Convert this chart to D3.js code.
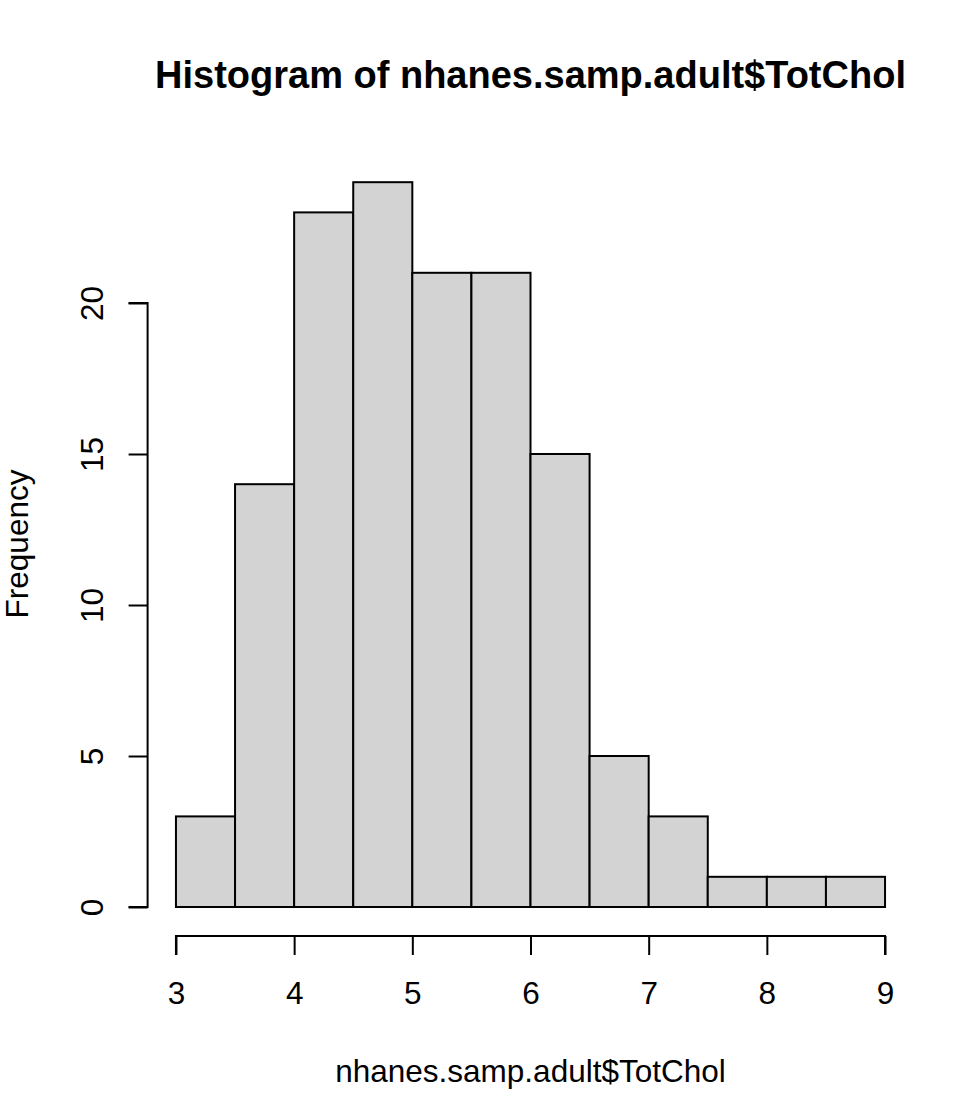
<!DOCTYPE html>
<html><head><meta charset="utf-8">
<script src="https://cdn.jsdelivr.net/npm/d3@7"></script>
<style>body{margin:0;background:#fff}svg{display:block}text{font-family:"Liberation Sans",Arial,sans-serif}</style>
</head><body>
<svg id="c" width="966" height="1102"></svg>
<script>
const binStarts = [3,3.5,4,4.5,5,5.5,6,6.5,7,7.5,8,8.5];
const binWidth = 0.5;
const counts = [3,14,23,24,21,21,15,5,3,1,1,1];
const xTicks = [3,4,5,6,7,8,9];
const yTicks = [0,5,10,15,20];
const title = "Histogram of nhanes.samp.adult$TotChol";
const xLabel = "nhanes.samp.adult$TotChol";
const yLabel = "Frequency";

const svg = d3.select("#c");
const x = d3.scaleLinear().domain([2.76, 9.24]).range([147.6, 913.4]);
const y = d3.scaleLinear().domain([-0.96, 24.96]).range([936, 153.2]);

svg.append("g").selectAll("rect").data(binStarts).join("rect")
  .attr("x", (d)=>x(d)).attr("width", (d)=>x(d+binWidth)-x(d))
  .attr("y", (d,i)=>y(counts[i])).attr("height", (d,i)=>y(0)-y(counts[i]))
  .attr("fill", "#d3d3d3").attr("stroke", "#000").attr("stroke-width", 2);

const xa = d3.axisBottom(x).tickValues(xTicks).tickSize(19).tickFormat(d3.format("d"));
const gx = svg.append("g").attr("transform", "translate(0,936)").call(xa);
gx.select(".domain").attr("d", `M${x(3)},19V0H${x(9)}V19`).attr("stroke-width", 2);
gx.selectAll(".tick line").attr("stroke-width", 2);
gx.selectAll("text").attr("font-size", 31.5).attr("fill", "#000")
  .attr("font-family", "Liberation Sans, Arial, sans-serif")
  .attr("y", 68).attr("dy", null);

const ya = d3.axisLeft(y).tickValues(yTicks).tickSize(19).tickFormat(d3.format("d"));
const gy = svg.append("g").attr("transform", "translate(147.6,0)").call(ya);
gy.select(".domain").attr("d", `M-19,${y(0)}H0V${y(20)}H-19`).attr("stroke-width", 2);
gy.selectAll(".tick line").attr("stroke-width", 2);
gy.selectAll("text").attr("font-size", 31.5).attr("fill", "#000")
  .attr("font-family", "Liberation Sans, Arial, sans-serif")
  .attr("text-anchor", "middle").attr("dy", null)
  .attr("transform", "translate(-45,0) rotate(-90)").attr("x", 0).attr("y", 0);

svg.append("text").attr("x", 530.5).attr("y", 88).attr("text-anchor", "middle")
  .attr("font-size", 38).attr("font-weight", "bold").text(title);
svg.append("text").attr("x", 530.5).attr("y", 1082).attr("text-anchor", "middle")
  .attr("font-size", 31.5).text(xLabel);
svg.append("text").attr("transform", "translate(28,544) rotate(-90)").attr("text-anchor", "middle")
  .attr("font-size", 31.5).text(yLabel);
</script>
</body></html>
